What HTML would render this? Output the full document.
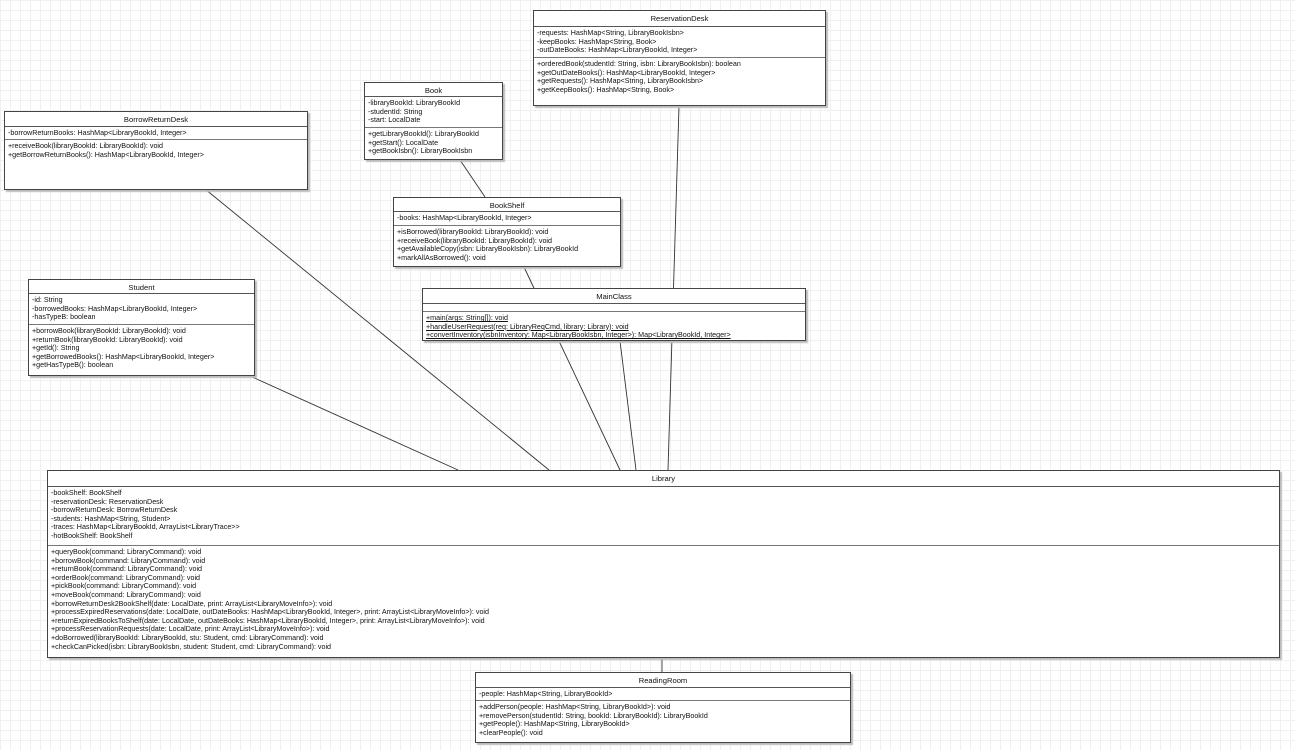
<!DOCTYPE html>
<html><head><meta charset="utf-8"><style>
body{margin:0;width:1295px;height:750px;overflow:hidden;background-color:#fff;
background-image:linear-gradient(#f0f0f0 1px,transparent 1px),linear-gradient(90deg,#f0f0f0 1px,transparent 1px);
background-size:10px 10px;font-family:"Liberation Sans",Arial,sans-serif;font-size:7.15px;color:#111;position:relative}
.b{position:absolute;background:#fff;border:1px solid #444;box-shadow:2px 2px 1px #bbb;box-sizing:border-box}
.t{text-align:center;font-weight:normal;font-size:7.6px;border-bottom:1px solid #555;box-sizing:border-box;padding-top:3px}
.s{border-bottom:1px solid #777;box-sizing:border-box;padding:2px 3px 0;line-height:8.6px;white-space:nowrap}
.s:last-child{border-bottom:none}
.u{text-decoration:underline}
svg{position:absolute;left:0;top:0}
</style></head><body>
<svg width="1295" height="750"><g stroke="#333" stroke-width="0.9">
<line x1="205" y1="189" x2="549" y2="470"/>
<line x1="460" y1="160" x2="485" y2="197"/>
<line x1="524" y1="267" x2="620" y2="470"/>
<line x1="620" y1="341" x2="636" y2="470"/>
<line x1="679" y1="106" x2="668" y2="470"/>
<line x1="250" y1="376" x2="458" y2="470"/>
<line x1="662" y1="658" x2="662" y2="672"/>
</g></svg>

<div class="b" style="left:533px;top:10px;width:293px;height:96px">
<div class="t" style="height:16px">ReservationDesk</div>
<div class="s" style="height:31px">-requests: HashMap&lt;String, LibraryBookIsbn&gt;<br>-keepBooks: HashMap&lt;String, Book&gt;<br>-outDateBooks: HashMap&lt;LibraryBookId, Integer&gt;</div>
<div class="s">+orderedBook(studentId: String, isbn: LibraryBookIsbn): boolean<br>+getOutDateBooks(): HashMap&lt;LibraryBookId, Integer&gt;<br>+getRequests(): HashMap&lt;String, LibraryBookIsbn&gt;<br>+getKeepBooks(): HashMap&lt;String, Book&gt;</div>
</div>

<div class="b" style="left:364px;top:82px;width:139px;height:78px">
<div class="t" style="height:14px">Book</div>
<div class="s" style="height:31px">-libraryBookId: LibraryBookId<br>-studentId: String<br>-start: LocalDate</div>
<div class="s">+getLibraryBookId(): LibraryBookId<br>+getStart(): LocalDate<br>+getBookIsbn(): LibraryBookIsbn</div>
</div>

<div class="b" style="left:4px;top:111px;width:304px;height:79px">
<div class="t" style="height:15px">BorrowReturnDesk</div>
<div class="s" style="height:13px">-borrowReturnBooks: HashMap&lt;LibraryBookId, Integer&gt;</div>
<div class="s">+receiveBook(libraryBookId: LibraryBookId): void<br>+getBorrowReturnBooks(): HashMap&lt;LibraryBookId, Integer&gt;</div>
</div>

<div class="b" style="left:393px;top:197px;width:228px;height:70px">
<div class="t" style="height:14px">BookShelf</div>
<div class="s" style="height:14px">-books: HashMap&lt;LibraryBookId, Integer&gt;</div>
<div class="s">+isBorrowed(libraryBookId: LibraryBookId): void<br>+receiveBook(libraryBookId: LibraryBookId): void<br>+getAvailableCopy(isbn: LibraryBookIsbn): LibraryBookId<br>+markAllAsBorrowed(): void</div>
</div>

<div class="b" style="left:422px;top:288px;width:384px;height:53px">
<div class="t" style="height:15px">MainClass</div>
<div class="s" style="height:8px"></div>
<div class="s u">+main(args: String[]): void<br>+handleUserRequest(req: LibraryReqCmd, library: Library): void<br>+convertInventory(isbnInventory: Map&lt;LibraryBookIsbn, Integer&gt;): Map&lt;LibraryBookId, Integer&gt;</div>
</div>

<div class="b" style="left:28px;top:279px;width:227px;height:97px">
<div class="t" style="height:14px">Student</div>
<div class="s" style="height:31px">-id: String<br>-borrowedBooks: HashMap&lt;LibraryBookId, Integer&gt;<br>-hasTypeB: boolean</div>
<div class="s">+borrowBook(libraryBookId: LibraryBookId): void<br>+returnBook(libraryBookId: LibraryBookId): void<br>+getId(): String<br>+getBorrowedBooks(): HashMap&lt;LibraryBookId, Integer&gt;<br>+getHasTypeB(): boolean</div>
</div>

<div class="b" style="left:47px;top:470px;width:1233px;height:188px">
<div class="t" style="height:16px">Library</div>
<div class="s" style="height:59px">-bookShelf: BookShelf<br>-reservationDesk: ReservationDesk<br>-borrowReturnDesk: BorrowReturnDesk<br>-students: HashMap&lt;String, Student&gt;<br>-traces: HashMap&lt;LibraryBookId, ArrayList&lt;LibraryTrace&gt;&gt;<br>-hotBookShelf: BookShelf</div>
<div class="s">+queryBook(command: LibraryCommand): void<br>+borrowBook(command: LibraryCommand): void<br>+returnBook(command: LibraryCommand): void<br>+orderBook(command: LibraryCommand): void<br>+pickBook(command: LibraryCommand): void<br>+moveBook(command: LibraryCommand): void<br>+borrowReturnDesk2BookShelf(date: LocalDate, print: ArrayList&lt;LibraryMoveInfo&gt;): void<br>+processExpiredReservations(date: LocalDate, outDateBooks: HashMap&lt;LibraryBookId, Integer&gt;, print: ArrayList&lt;LibraryMoveInfo&gt;): void<br>+returnExpiredBooksToShelf(date: LocalDate, outDateBooks: HashMap&lt;LibraryBookId, Integer&gt;, print: ArrayList&lt;LibraryMoveInfo&gt;): void<br>+processReservationRequests(date: LocalDate, print: ArrayList&lt;LibraryMoveInfo&gt;): void<br>+doBorrowed(libraryBookId: LibraryBookId, stu: Student, cmd: LibraryCommand): void<br>+checkCanPicked(isbn: LibraryBookIsbn, student: Student, cmd: LibraryCommand): void</div>
</div>

<div class="b" style="left:475px;top:672px;width:376px;height:71px">
<div class="t" style="height:15px">ReadingRoom</div>
<div class="s" style="height:13px">-people: HashMap&lt;String, LibraryBookId&gt;</div>
<div class="s">+addPerson(people: HashMap&lt;String, LibraryBookId&gt;): void<br>+removePerson(studentId: String, bookId: LibraryBookId): LibraryBookId<br>+getPeople(): HashMap&lt;String, LibraryBookId&gt;<br>+clearPeople(): void</div>
</div>
</body></html>
